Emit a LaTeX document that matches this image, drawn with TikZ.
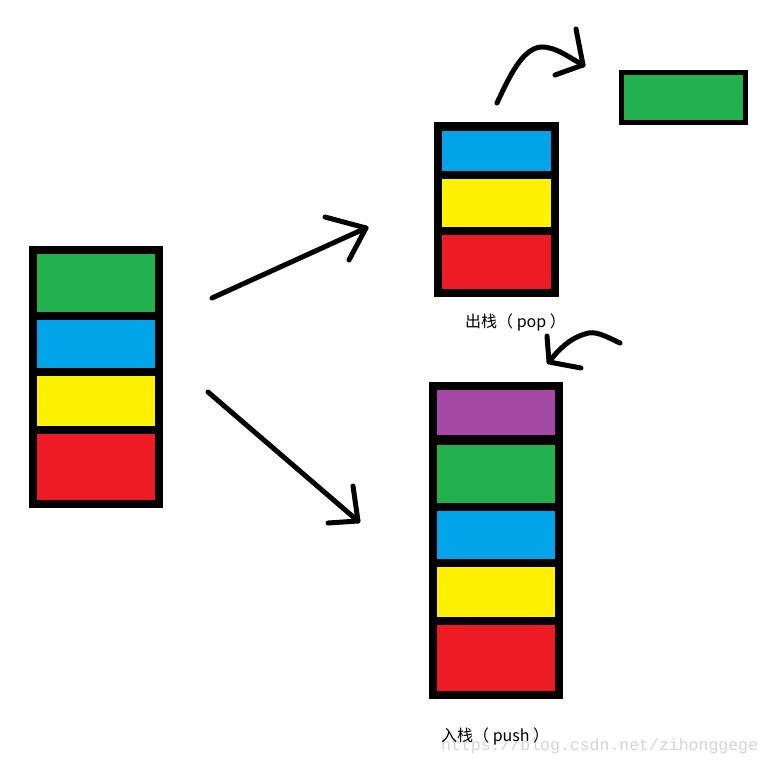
\documentclass[tikz,border=0pt]{standalone}
\usepackage{fontspec}
\newfontfamily\cjk{Noto Sans CJK SC}
\newfontfamily\wmfont{Liberation Mono}
\definecolor{pgreen}{HTML}{22B14C}
\definecolor{pblue}{HTML}{00A2E8}
\definecolor{pyellow}{HTML}{FFF200}
\definecolor{pred}{HTML}{ED1C24}
\definecolor{ppurple}{HTML}{A349A4}
\definecolor{wmgray}{HTML}{D4D4D4}
\tikzset{
  frame/.style={fill=black, draw=none, inner sep=0pt, outer sep=0pt, anchor=north west},
  cell/.style={draw=none, inner sep=0pt, outer sep=0pt, anchor=north west},
  stroke/.style={line width=5pt, line cap=round, line join=round, black},
  lbl/.style={font=\cjk\fontsize{16pt}{18pt}\selectfont, inner sep=0pt},
}
\begin{document}
\begin{tikzpicture}[x=1pt, y=-1pt]
\useasboundingbox (0,0) rectangle (771,764);
\fill[white] (0,0) rectangle (771,764);
% left stack
\node[frame, minimum width=134pt, minimum height=262pt] (Lst) at (29,246) {};
\node[cell, fill=pgreen, minimum width=118pt, minimum height=58pt] (L1) at (37,254) {};
\node[cell, fill=pblue, minimum width=118pt, minimum height=48pt] (L2) at (37,320) {};
\node[cell, fill=pyellow, minimum width=118pt, minimum height=50pt] (L3) at (37,376) {};
\node[cell, fill=pred, minimum width=118pt, minimum height=66pt] (L4) at (37,434) {};
% pop stack
\node[frame, minimum width=125pt, minimum height=175pt] (Pst) at (434,122) {};
\node[cell, fill=pblue, minimum width=109pt, minimum height=40pt] (P1) at (442,131) {};
\node[cell, fill=pyellow, minimum width=109pt, minimum height=48pt] (P2) at (442,179) {};
\node[cell, fill=pred, minimum width=109pt, minimum height=54pt] (P3) at (442,235) {};
% popped element
\node[frame, minimum width=129pt, minimum height=55pt] (Gst) at (619,70) {};
\node[cell, fill=pgreen, minimum width=119pt, minimum height=45pt] (G1) at (624,75) {};
% push stack
\node[frame, minimum width=134pt, minimum height=317pt] (Hst) at (429,382) {};
\node[cell, fill=ppurple, minimum width=118pt, minimum height=45pt] (H1) at (437,390) {};
\node[cell, fill=pgreen, minimum width=118pt, minimum height=58pt] (H2) at (437,445) {};
\node[cell, fill=pblue, minimum width=118pt, minimum height=48pt] (H3) at (437,511) {};
\node[cell, fill=pyellow, minimum width=118pt, minimum height=50pt] (H4) at (437,567) {};
\node[cell, fill=pred, minimum width=118pt, minimum height=66pt] (H5) at (437,625) {};
% watermark (drawn first, label on top)
\node[font=\wmfont\fontsize{16.5pt}{18pt}\selectfont, text=wmgray, inner sep=0pt, anchor=base west] (wm) at (441,750) {https://blog.csdn.net/zihonggege};
% labels
\node[lbl, anchor=west] (popl) at (465,322) {出栈（ pop ）};
\node[lbl, anchor=west] (pushl) at (441,736) {入栈（ push ）};
% arrow coordinates
\coordinate (a1s) at (212,298);
\coordinate (a1t) at (366,228);
\coordinate (a1u) at (325,217);
\coordinate (a1v) at (349,260);
\coordinate (a2s) at (208,392);
\coordinate (a2t) at (358,521);
\coordinate (a2u) at (353,486);
\coordinate (a2v) at (328,523);
\coordinate (cps) at (497,103);
\coordinate (cpm) at (540,47);
\coordinate (cpt) at (583,65);
\coordinate (cpu) at (576,29);
\coordinate (cpv) at (555,75);
\coordinate (chs) at (620,343);
\coordinate (chm) at (585,334);
\coordinate (cht) at (549,362);
\coordinate (chu) at (547,336);
\coordinate (chv) at (581,368);
% arrows
\draw[stroke] (a1s) -- (a1t);
\draw[stroke] (a1u) -- (a1t) -- (a1v);
\draw[stroke] (a2s) -- (a2t);
\draw[stroke] (a2u) -- (a2t) -- (a2v);
\draw[stroke] (cps) .. controls (510,75) and (522,50) .. (cpm) .. controls (555,46) and (570,58) .. (cpt);
\draw[stroke] (cpu) -- (cpt) -- (cpv);
\draw[stroke] (chs) .. controls (605,336) and (595,330) .. (chm) .. controls (570,338) and (558,350) .. (cht);
\draw[stroke] (chu) -- (cht) -- (chv);
\end{tikzpicture}
\end{document}
